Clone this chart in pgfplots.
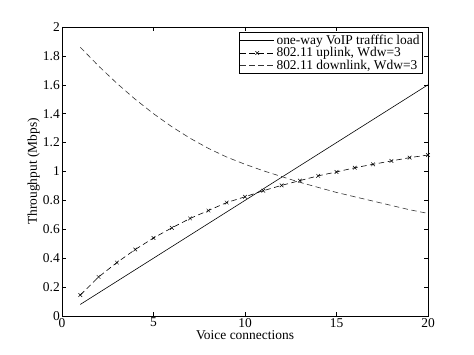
\documentclass[border=0pt]{standalone}
\usepackage{pgfplots}
\pgfplotsset{compat=1.18}
\usepackage{fontspec}
\setmainfont{Liberation Serif}
\begin{document}
\begin{tikzpicture}[x=1bp,y=1bp]
\begin{axis}[
  scale only axis,
  width=366bp, height=289bp,
  xmin=0, xmax=20, ymin=0, ymax=2,
  xtick={0,5,10,15,20},
  ytick={0,0.2,0.4,0.6,0.8,1,1.2,1.4,1.6,1.8,2},
  yticklabels={0,0.2,0.4,0.6,0.8,1,1.2,1.4,1.6,1.8,2},
  xticklabels={0,5,10,15,20},
  tick align=inside,
  major tick length=4bp,
  axis line style={line width=0.6pt},
  tick style={line width=0.5pt, black},
  ticklabel style={font=\fontsize{13.5}{15}\selectfont},
  xticklabel style={inner sep=2pt},
  yticklabel style={inner sep=2pt},
  xlabel={Voice connections},
  ylabel={Throughput (Mbps)},
  label style={font=\fontsize{13.5}{15}\selectfont},
  xlabel style={inner sep=1pt},
  ylabel style={inner sep=1pt},
  legend style={at={(rel axis cs:0.986,0.983)}, anchor=north east,
    font=\fontsize{13.5}{15}\selectfont, draw=black, line width=0.6pt,
    inner sep=1pt, row sep=-2.5pt},
  legend cell align=left,
  legend image code/.code={\draw[mark repeat=2,mark phase=2,#1]
    plot coordinates {(0bp,0bp)(17bp,0bp)(34bp,0bp)};},
]
\addplot[black, line width=0.6pt, no marks] coordinates {
(1,0.08) (2,0.16) (3,0.24) (4,0.32) (5,0.40) (6,0.48) (7,0.56) (8,0.64) (9,0.72) (10,0.80)
(11,0.88) (12,0.96) (13,1.04) (14,1.12) (15,1.20) (16,1.28) (17,1.36) (18,1.44) (19,1.52) (20,1.60)};
\addlegendentry{one-way VoIP trafffic load}
\addplot[black, line width=0.6pt, dash pattern=on 5.5pt off 3.5pt, mark=x, mark size=2.6pt,
  mark options={solid, line width=0.5pt}] coordinates {
(1,0.145) (2,0.27) (3,0.37) (4,0.46) (5,0.54) (6,0.61) (7,0.675) (8,0.73) (9,0.785) (10,0.825)
(11,0.867) (12,0.904) (13,0.937) (14,0.97) (15,0.997) (16,1.026) (17,1.05) (18,1.073) (19,1.096) (20,1.114)};
\addlegendentry{802.11 uplink, Wdw=3}
\addplot[black!80, line width=0.6pt, dash pattern=on 5.5pt off 3.5pt, no marks] coordinates {
(1,1.86) (2,1.73) (3,1.61) (4,1.50) (5,1.40) (6,1.31) (7,1.23) (8,1.16) (9,1.10) (10,1.05)
(11,1.005) (12,0.965) (13,0.925) (14,0.89) (15,0.855) (16,0.825) (17,0.795) (18,0.765) (19,0.735) (20,0.71)};
\addlegendentry{802.11 downlink, Wdw=3}
\end{axis}
\path (current axis.south west) ++(-62bp,-39bp) rectangle ++(474bp,355bp);
\end{tikzpicture}
\end{document}
